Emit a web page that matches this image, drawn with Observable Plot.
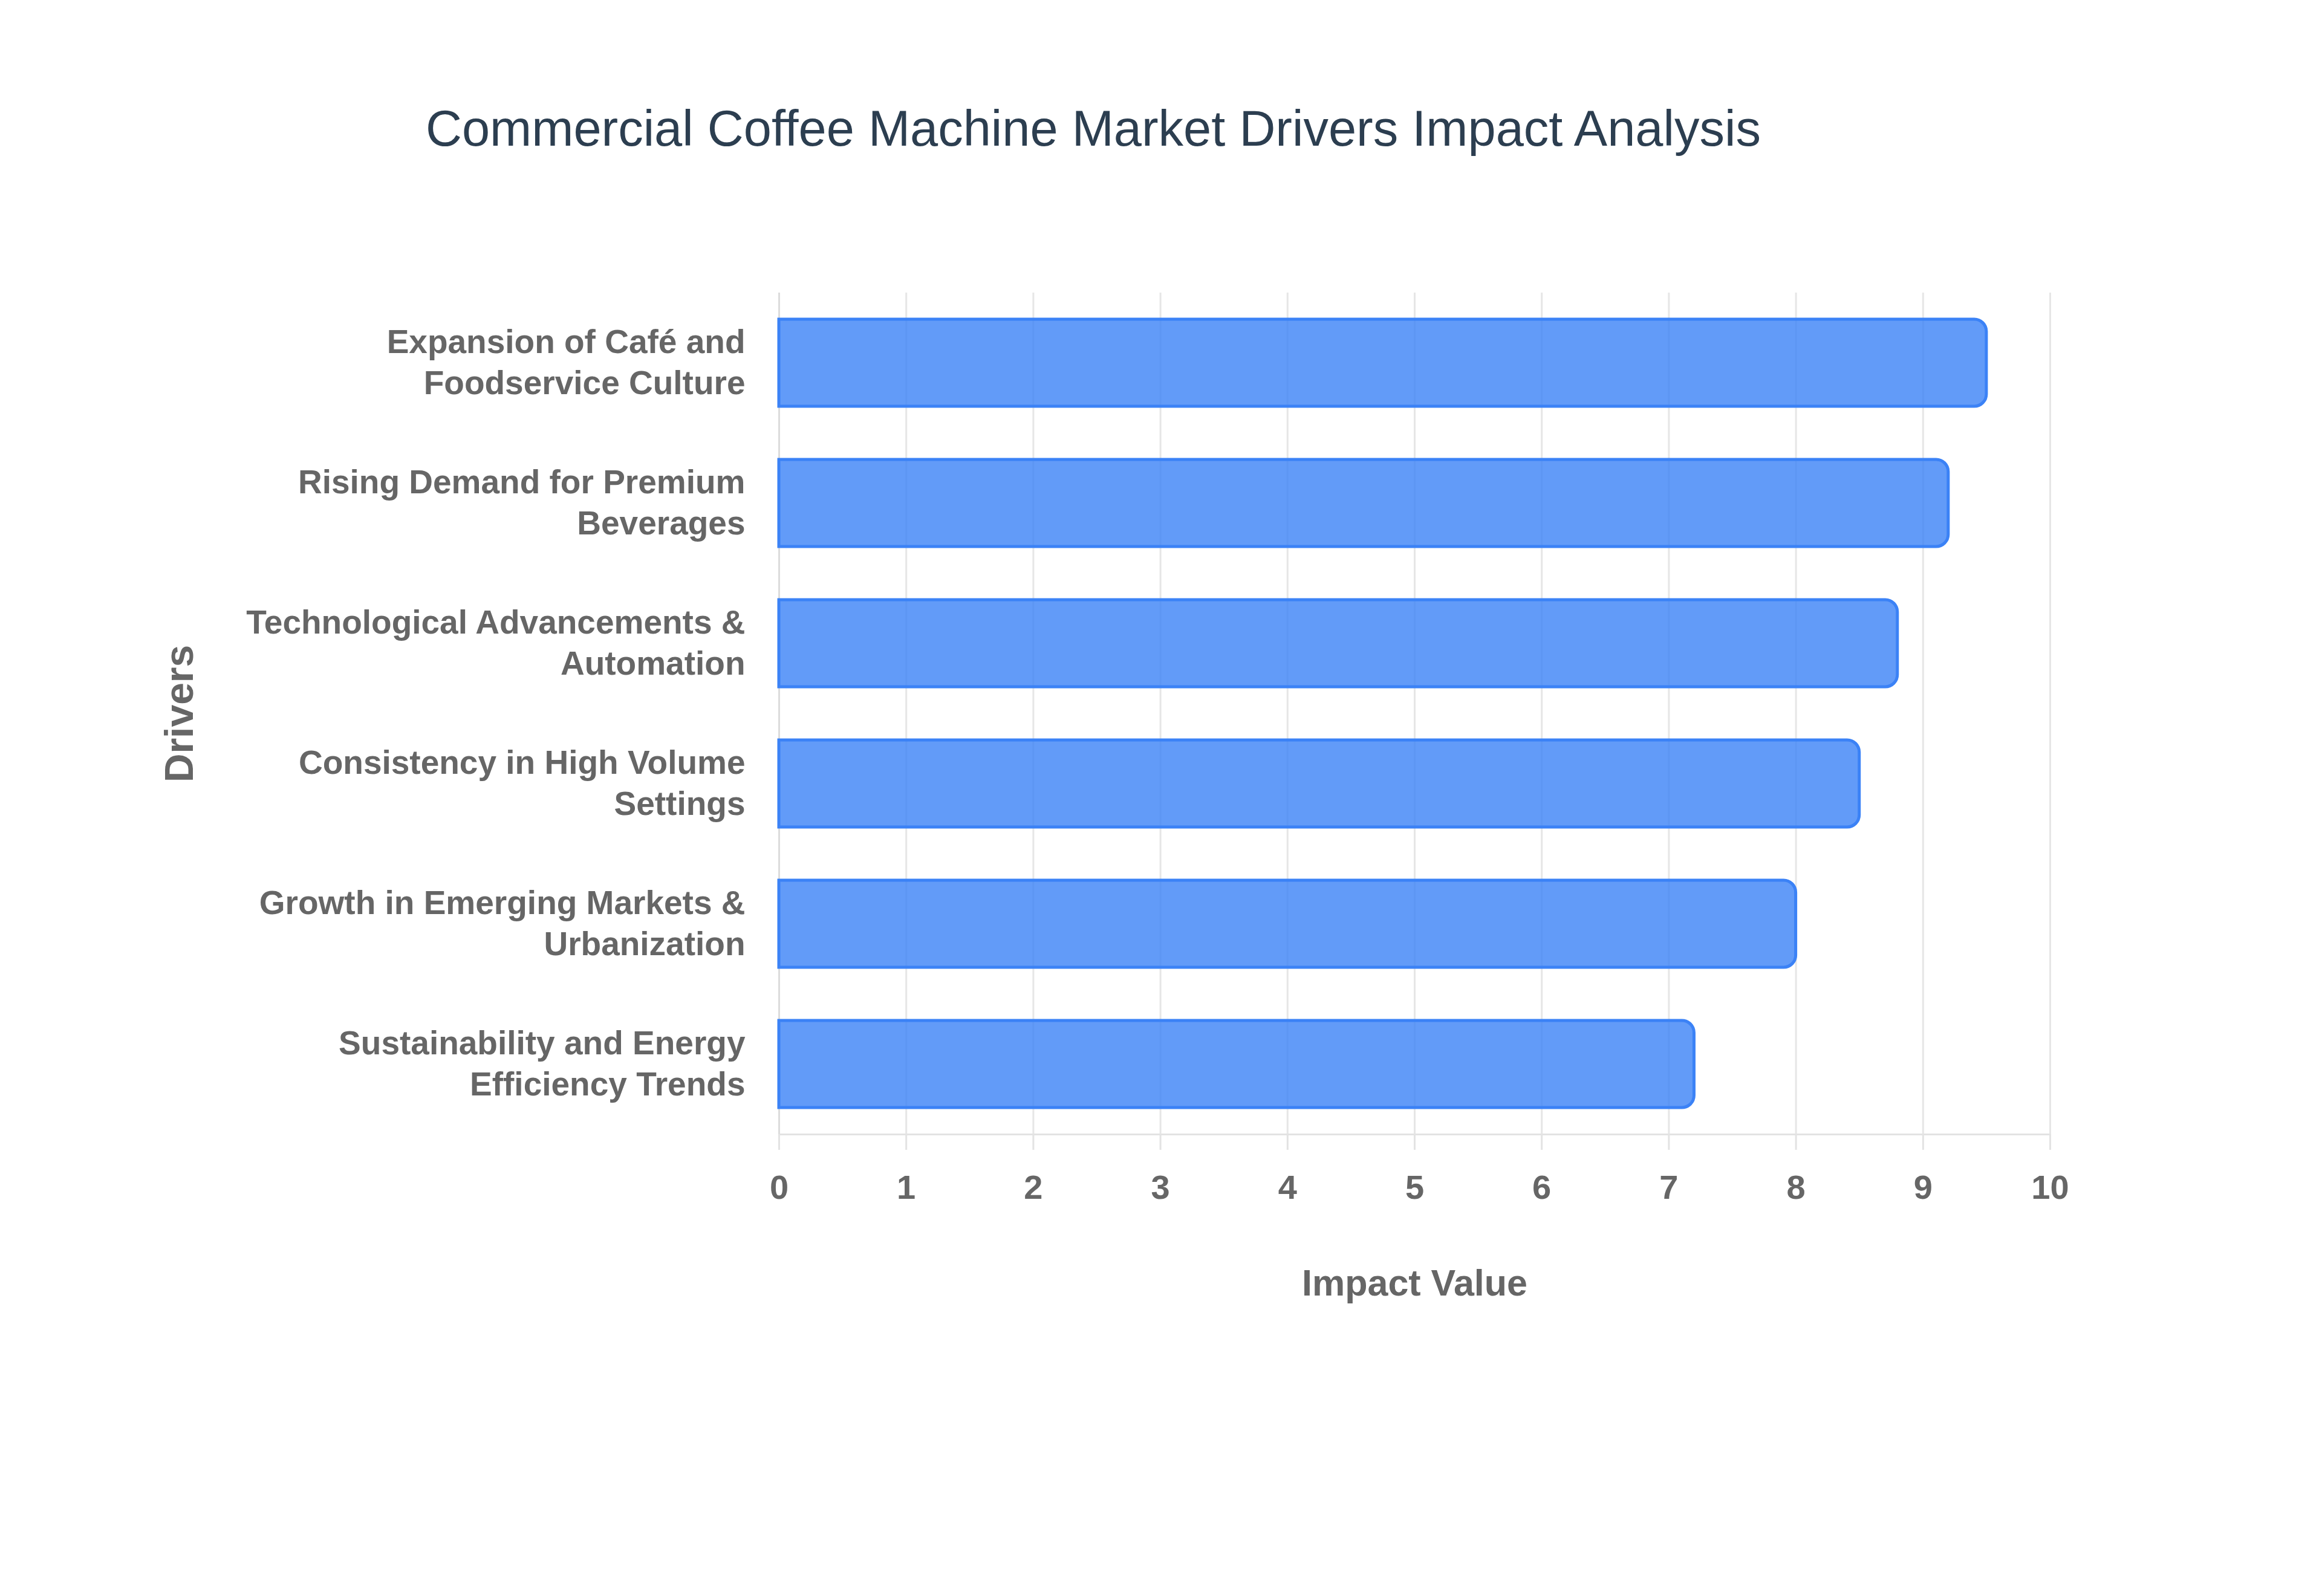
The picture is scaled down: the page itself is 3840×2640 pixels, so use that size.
<!DOCTYPE html>
<html>
<head>
<meta charset="utf-8">
<script src="https://cdn.jsdelivr.net/npm/d3@7"></script>
<script src="https://cdn.jsdelivr.net/npm/@observablehq/plot@0.6"></script>
<style>
  html, body { margin: 0; padding: 0; background: #fff; }
  #wrap { width: 3840px; }
  #title { position: relative; height: 300px; width: 3840px; }
  #title span {
    position: absolute; left: 704px; top: 171px;
    font-family: "Liberation Sans", Arial, sans-serif; font-size: 83px; line-height: 1;
    color: #2c3e50; white-space: nowrap;
  }
</style>
</head>
<body>
<div id="wrap">
  <div id="title"><span>Commercial Coffee Machine Market Drivers Impact Analysis</span></div>
  <div id="chart"></div>
</div>
<script>
const drivers = [
  "Expansion of Café and Foodservice Culture",
  "Rising Demand for Premium Beverages",
  "Technological Advancements & Automation",
  "Consistency in High Volume Settings",
  "Growth in Emerging Markets & Urbanization",
  "Sustainability and Energy Efficiency Trends"
];
const driverLabels = [
  "Expansion of Café and\nFoodservice Culture",
  "Rising Demand for Premium\nBeverages",
  "Technological Advancements &\nAutomation",
  "Consistency in High Volume\nSettings",
  "Growth in Emerging Markets &\nUrbanization",
  "Sustainability and Energy\nEfficiency Trends"
];
const impactValues = [9.5, 9.2, 8.8, 8.5, 8.0, 7.2];
const xTicks = [0, 1, 2, 3, 4, 5, 6, 7, 8, 9, 10];
const xTitle = "Impact Value";
const yTitle = "Drivers";

const data = drivers.map((d, i) => ({driver: d, label: driverLabels[i], value: impactValues[i]}));

const chart = Plot.plot({
  width: 3840,
  height: 2340,
  marginTop: 184,
  marginBottom: 764,
  marginLeft: 1288,
  marginRight: 450,
  style: {fontFamily: "'Liberation Sans', Arial, sans-serif", background: "white"},
  x: {domain: [0, 10]},
  y: {domain: drivers, paddingInner: 0.38, paddingOuter: 0.19, axis: null},
  marks: [
    Plot.gridX(xTicks, {stroke: "#e6e6e6", strokeOpacity: 1, strokeWidth: 3}),
    Plot.frame({anchor: "bottom", stroke: "#e3e3e3", strokeWidth: 3}),
    Plot.ruleX([0], {stroke: "#dcdcdc", strokeWidth: 3}),
    Plot.axisX(xTicks, {
      tickSize: 26, tickPadding: 41, fontSize: 56, fontWeight: "bold",
      color: "#666666", stroke: "#e3e3e3", strokeWidth: 3, label: null,
      tickFormat: d => String(d)
    }),
    Plot.barX(data, {
      y: "driver", x: "value",
      fill: "#3b82f6", fillOpacity: 0.8,
      stroke: "#3b82f6", strokeWidth: 5,
      rx2: 20
    }),
    Plot.text(data, {
      y: "driver", text: "label", frameAnchor: "left",
      textAnchor: "end", lineAnchor: "middle", dx: -56, dy: -4, lineHeight: 1.24,
      fontSize: 55, fontWeight: "bold", fill: "#666666"
    }),
    Plot.text([xTitle], {
      frameAnchor: "bottom", dy: 266, dx: 0, lineAnchor: "bottom", textAnchor: "middle",
      fontSize: 61, fontWeight: "bold", fill: "#666666"
    }),
    Plot.text([yTitle], {
      frameAnchor: "left", dx: -991, rotate: -90, lineAnchor: "middle", textAnchor: "middle",
      fontSize: 66, fontWeight: "bold", fill: "#666666"
    })
  ]
});
document.getElementById("chart").appendChild(chart);
</script>
</body>
</html>
